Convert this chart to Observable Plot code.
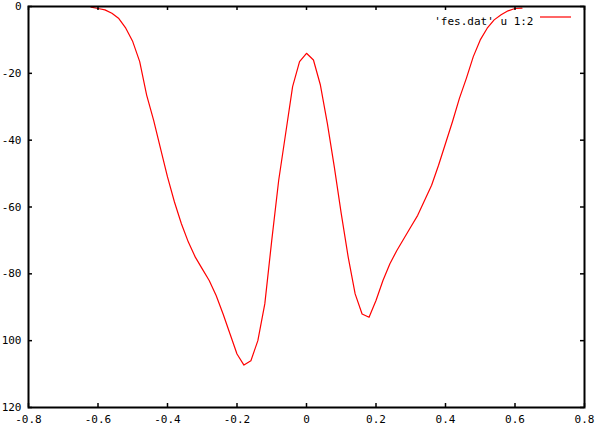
<!DOCTYPE html>
<html>
<head>
<meta charset="utf-8">
<script src="https://cdn.jsdelivr.net/npm/d3@7"></script>
<script src="https://cdn.jsdelivr.net/npm/@observablehq/plot@0.6"></script>
<style>
  html, body { margin: 0; padding: 0; background: #fff; }
  #chart svg { display: block; }
</style>
</head>
<body>
<div id="chart"></div>
<script>
const xs = [-0.62, -0.60, -0.58, -0.56, -0.54, -0.52, -0.50, -0.48, -0.46, -0.44, -0.42, -0.40, -0.38, -0.36, -0.34, -0.32, -0.30, -0.28, -0.26, -0.24, -0.22, -0.20, -0.18, -0.16, -0.14, -0.12, -0.10, -0.08, -0.06, -0.04, -0.02, 0.00, 0.02, 0.04, 0.06, 0.08, 0.10, 0.12, 0.14, 0.16, 0.18, 0.20, 0.22, 0.24, 0.26, 0.28, 0.30, 0.32, 0.34, 0.36, 0.38, 0.40, 0.42, 0.44, 0.46, 0.48, 0.50, 0.52, 0.54, 0.56, 0.58, 0.60, 0.62];
const ys = [-0.2, -0.6, -1.0, -2.0, -3.6, -6.5, -10.5, -16.5, -26.5, -34, -42.5, -51, -58.5, -65, -70.5, -75, -78.5, -82, -86.5, -92, -98, -104, -107.3, -106, -100, -89, -70, -52, -38, -24, -16.5, -14, -16, -23.5, -35, -48, -62, -75, -86, -92, -93, -88, -82, -77, -73, -69.5, -66, -62.5, -58, -53.5, -47.5, -41, -34.5, -27.5, -21.5, -15, -10, -6.5, -4, -2.5, -1.3, -0.6, -0.5];
const xTicks = [-0.8, -0.6, -0.4, -0.2, 0, 0.2, 0.4, 0.6, 0.8];
const xTickLabels = ["-0.8", "-0.6", "-0.4", "-0.2", "0", "0.2", "0.4", "0.6", "0.8"];
const yTicks = [0, -20, -40, -60, -80, -100, -120];
const yTickLabels = ["0", "-20", "-40", "-60", "-80", "100", "120"];
const legendLabel = "'fes.dat' u 1:2";

const data = xs.map((x, i) => ({x, y: ys[i]}));
const W = 600, H = 434, mL = 28, mR = 16, mT = 6, mB = 27;
const fw = W - mL - mR, fh = H - mT - mB;
const font = "'DejaVu Sans Mono', monospace";

const chart = Plot.plot({
  width: W, height: H,
  marginLeft: mL, marginRight: mR, marginTop: mT, marginBottom: mB,
  style: {fontFamily: font, fontSize: "11px", color: "#000", background: "#fff"},
  x: {domain: [-0.8, 0.8]},
  y: {domain: [-120, 0]},
  marks: [
    Plot.line(data, {x: "x", y: "y", stroke: "#ff0000", strokeWidth: 1.2}),
    Plot.ruleX(xTicks, {stroke: "#000", strokeWidth: 1.5, insetTop: fh - 4}),
    Plot.ruleX(xTicks, {stroke: "#000", strokeWidth: 1.5, insetBottom: fh - 4}),
    Plot.ruleY(yTicks, {stroke: "#000", strokeWidth: 1.5, insetRight: fw - 4}),
    Plot.ruleY(yTicks, {stroke: "#000", strokeWidth: 1.5, insetLeft: fw - 4}),
    Plot.axisX(xTicks, {tickSize: 0, tickPadding: 8, label: null, tickFormat: (d, i) => xTickLabels[i], fontSize: 11, fill: "#000"}),
    Plot.axisY(yTicks, {tickSize: 0, tickPadding: 7, label: null, tickFormat: (d, i) => yTickLabels[i], fontSize: 11, fill: "#000"}),
    Plot.frame({stroke: "#000", strokeWidth: 2}),
    Plot.text([legendLabel], {frameAnchor: "top-right", dx: -51, dy: 11, textAnchor: "end", fontSize: 11, fill: "#000"})
  ]
});
document.getElementById("chart").appendChild(chart);

// legend sample line
d3.select(chart).append("line")
  .attr("x1", 540).attr("x2", 571).attr("y1", 17).attr("y2", 17)
  .attr("stroke", "#ff0000").attr("stroke-width", 1.2);
</script>
</body>
</html>
